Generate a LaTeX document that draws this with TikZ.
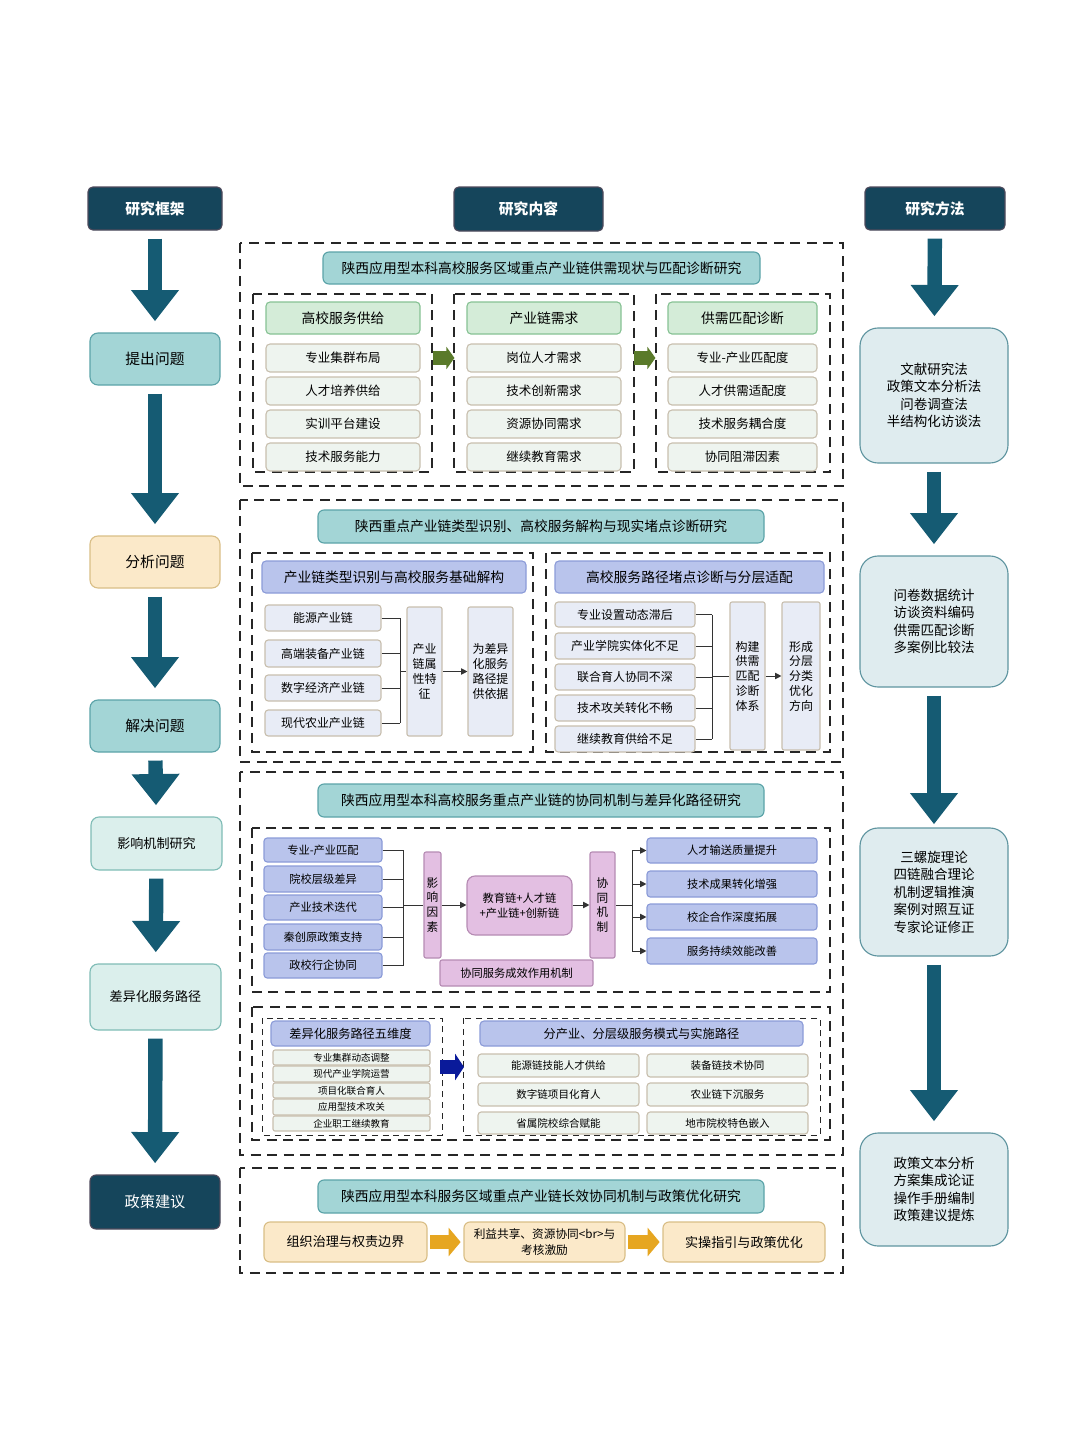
\documentclass[tikz,border=0pt]{standalone}
\usepackage{fontspec}
\setmainfont{Noto Sans CJK SC}
\usepackage{tikz}
\usetikzlibrary{positioning, calc, arrows.meta}

\definecolor{hdfill}{HTML}{15455B}
\definecolor{hdline}{HTML}{4E4A5C}
\definecolor{arrowc}{HTML}{155B73}
\definecolor{tealfill}{HTML}{A3D5D6}
\definecolor{tealline}{HTML}{5BA3A8}
\definecolor{tanfill}{HTML}{FBE9C9}
\definecolor{tanline}{HTML}{D9BE86}
\definecolor{mintfill}{HTML}{DBEFEC}
\definecolor{mintline}{HTML}{7FBCB6}
\definecolor{methfill}{HTML}{DFECEF}
\definecolor{methline}{HTML}{5F95A0}
\definecolor{grnfill}{HTML}{D4ECD8}
\definecolor{grnline}{HTML}{86C293}
\definecolor{itemfill}{HTML}{EEF4EF}
\definecolor{itemline}{HTML}{C8BFAE}
\definecolor{lavfill}{HTML}{B9C4EC}
\definecolor{lavline}{HTML}{8B9BD8}
\definecolor{lavlight}{HTML}{E8ECF6}
\definecolor{pinkfill}{HTML}{E3BFE2}
\definecolor{pinkline}{HTML}{B58BB3}
\definecolor{grnarrowc}{HTML}{5A7A2A}
\definecolor{bluarrowc}{HTML}{0A1A9A}
\definecolor{orgarrowc}{HTML}{E6A621}
\definecolor{connc}{HTML}{333333}

% box from corner (x1,y1) to corner (x2,y2), pixel units
\newcommand{\bx}[7]{\node[#6, minimum width={(#4-#2)*0.025cm}, minimum height={(#5-#3)*0.025cm}] (#1) at ({(#2+#4)/2},{(#3+#5)/2}) {#7};}

\tikzset{
  box/.style={draw, inner sep=0pt, align=center, line width=0.8pt},
  hdr/.style={box, fill=hdfill, draw=hdline, rounded corners=0.12cm, text=white,
    font=\fontsize{10.5}{12}\selectfont\bfseries},
  darkbx/.style={box, fill=hdfill, draw=hdline, rounded corners=0.15cm, text=white,
    font=\fontsize{10.8}{13}\selectfont},
  tealbx/.style={box, fill=tealfill, draw=tealline, rounded corners=0.2cm,
    font=\fontsize{10.5}{13}\selectfont},
  tanbx/.style={box, fill=tanfill, draw=tanline, rounded corners=0.2cm,
    font=\fontsize{10.5}{13}\selectfont},
  mintbx/.style={box, fill=mintfill, draw=mintline, rounded corners=0.2cm,
    font=\fontsize{9.3}{12}\selectfont},
  methbx/.style={box, fill=methfill, draw=methline, rounded corners=0.45cm,
    font=\fontsize{9.6}{12.4}\selectfont},
  titlebx/.style={box, fill=tealfill, draw=tealline, rounded corners=0.15cm,
    font=\fontsize{9.8}{12}\selectfont},
  grnhd/.style={box, fill=grnfill, draw=grnline, rounded corners=0.1cm,
    font=\fontsize{9.8}{12}\selectfont},
  item/.style={box, fill=itemfill, draw=itemline, rounded corners=0.1cm,
    font=\fontsize{8.9}{11}\selectfont},
  lavhd/.style={box, fill=lavfill, draw=lavline, rounded corners=0.1cm,
    font=\fontsize{9.8}{12}\selectfont},
  lavitem/.style={box, fill=lavlight, draw=itemline, rounded corners=0.08cm,
    font=\fontsize{8.5}{11}\selectfont},
  lavtall/.style={box, fill=lavlight, draw=itemline, rounded corners=0.05cm,
    font=\fontsize{8.5}{10.5}\selectfont},
  lavsm/.style={box, fill=lavfill, draw=lavline, rounded corners=0.08cm,
    font=\fontsize{8}{10}\selectfont},
  pinkbx/.style={box, fill=pinkfill, draw=pinkline, rounded corners=0.05cm,
    font=\fontsize{8.3}{10.5}\selectfont},
  dimitem/.style={box, fill=itemfill, draw=itemline, rounded corners=0.05cm,
    font=\fontsize{6.8}{8}\selectfont},
  gridit/.style={box, fill=itemfill, draw=itemline, rounded corners=0.08cm,
    font=\fontsize{7.5}{9}\selectfont},
  tanbot/.style={box, fill=tanfill, draw=tanline, rounded corners=0.15cm,
    font=\fontsize{9.3}{11.5}\selectfont},
  dashbox/.style={draw=black!85, line width=0.9pt, dash pattern=on 0.25cm off 0.16cm},
  bigarrow/.style={draw=arrowc, line width=0.36cm, -{Triangle[width=1.15cm,length=0.78cm]},
    shorten <=0.2cm, shorten >=0.28cm},
  grnarrow/.style={draw=grnarrowc, line width=0.33cm, -{Triangle[width=0.55cm,length=0.2cm]},
    shorten <=0.3cm, shorten >=0.3cm},
  bluarrow/.style={draw=bluarrowc, line width=0.35cm, -{Triangle[width=0.65cm,length=0.22cm]}},
  orgarrow/.style={draw=orgarrowc, line width=0.35cm, -{Triangle[width=0.7cm,length=0.3cm]},
    shorten <=0.07cm, shorten >=0.07cm},
  conn/.style={draw=connc, line width=0.7pt},
  connarr/.style={draw=connc, line width=0.7pt, -{Triangle[length=4.5pt,width=4.5pt]}},
}

\begin{document}
\begin{tikzpicture}[x=0.025cm, y=-0.025cm]
    \useasboundingbox (0,0) rectangle (1080,1440);

    % ---------- left column: research framework ----------
    \bx{kjhd}{88}{187}{222}{230}{hdr}{研究框架}
    \bx{tcwt}{90}{333}{220}{385}{tealbx}{提出问题}
    \bx{fxwt}{90}{536}{220}{588}{tanbx}{分析问题}
    \bx{jjwt}{90}{700}{220}{752}{tealbx}{解决问题}
    \bx{yxjz}{91}{817}{222}{870}{mintbx}{影响机制研究}
    \bx{cylj}{90}{964}{221}{1030}{mintbx}{差异化服务路径}
    \bx{zcjy}{90}{1175}{220}{1229}{darkbx}{政策建议}

    \draw[bigarrow] (kjhd) -- (tcwt);
    \draw[bigarrow] (tcwt) -- (fxwt);
    \draw[bigarrow] (fxwt) -- (jjwt);
    \draw[bigarrow] (jjwt) -- (yxjz);
    \draw[bigarrow] (yxjz) -- (cylj);
    \draw[bigarrow] (cylj) -- (zcjy);

    % ---------- right column: research methods ----------
    \bx{ffhd}{865}{187}{1005}{230}{hdr}{研究方法}
    \bx{ff1}{860}{328}{1008}{463}{methbx}{文献研究法\\政策文本分析法\\问卷调查法\\半结构化访谈法}
    \bx{ff2}{860}{556}{1008}{687}{methbx}{问卷数据统计\\访谈资料编码\\供需匹配诊断\\多案例比较法}
    \bx{ff3}{860}{828}{1008}{956}{methbx}{三螺旋理论\\四链融合理论\\机制逻辑推演\\案例对照互证\\专家论证修正}
    \bx{ff4}{860}{1133}{1008}{1246}{methbx}{政策文本分析\\方案集成论证\\操作手册编制\\政策建议提炼}

    \draw[bigarrow] (ffhd) -- (ff1);
    \draw[bigarrow] (ff1) -- (ff2);
    \draw[bigarrow, shorten >=0.08cm] (ff2) -- (ff3);
    \draw[bigarrow] (ff3) -- (ff4);

    % ---------- middle column: research content ----------
    \bx{nrhd}{454}{187}{603}{231}{hdr}{研究内容}

    % section 1: supply and demand diagnosis
    \draw[dashbox] (240,243) rectangle (843,486);
    \bx{t1}{323}{252}{760}{284}{titlebx}{陕西应用型本科高校服务区域重点产业链供需现状与匹配诊断研究}
    \draw[dashbox] (253,294) rectangle (432,472);
    \draw[dashbox] (454,294) rectangle (634,472);
    \draw[dashbox] (656,294) rectangle (830,472);

    \bx{gjhd}{266}{302}{420}{334}{grnhd}{高校服务供给}
    \bx{gj1}{266}{344}{420}{372}{item}{专业集群布局}
    \bx{gj2}{266}{377}{420}{405}{item}{人才培养供给}
    \bx{gj3}{266}{410}{420}{438}{item}{实训平台建设}
    \bx{gj4}{266}{443}{420}{471}{item}{技术服务能力}

    \bx{xqhd}{467}{302}{621}{334}{grnhd}{产业链需求}
    \bx{xq1}{467}{344}{621}{372}{item}{岗位人才需求}
    \bx{xq2}{467}{377}{621}{405}{item}{技术创新需求}
    \bx{xq3}{467}{410}{621}{438}{item}{资源协同需求}
    \bx{xq4}{467}{443}{621}{471}{item}{继续教育需求}

    \bx{ppdh}{668}{302}{817}{334}{grnhd}{供需匹配诊断}
    \bx{pp1}{668}{344}{817}{372}{item}{专业-产业匹配度}
    \bx{pp2}{668}{377}{817}{405}{item}{人才供需适配度}
    \bx{pp3}{668}{410}{817}{438}{item}{技术服务耦合度}
    \bx{pp4}{668}{443}{817}{471}{item}{协同阻滞因素}

    \draw[grnarrow] (gj1.east) -- (xq1.west);
    \draw[grnarrow] (xq1.east) -- (pp1.west);

    % section 2: chain types and blocking points
    \draw[dashbox] (240,500) rectangle (843,762);
    \bx{t2}{318}{510}{764}{543}{titlebx}{陕西重点产业链类型识别、高校服务解构与现实堵点诊断研究}
    \draw[dashbox] (252,553) rectangle (533,752);
    \draw[dashbox] (546,553) rectangle (830,752);

    \bx{lxhd}{262}{561}{526}{593}{lavhd}{产业链类型识别与高校服务基础解构}
    \bx{lx1}{265}{605}{381}{631}{lavitem}{能源产业链}
    \bx{lx2}{265}{640}{381}{667}{lavitem}{高端装备产业链}
    \bx{lx3}{265}{675}{381}{701}{lavitem}{数字经济产业链}
    \bx{lx4}{265}{710}{381}{736}{lavitem}{现代农业产业链}
    \bx{sxtz}{407}{607}{442}{736}{lavtall}{产业\\链属\\性特\\征}
    \bx{tgyj}{468}{607}{513}{736}{lavtall}{为差异\\化服务\\路径提\\供依据}

    \coordinate (lxbus) at (400,618);
    \draw[conn] (lx1.east) -- (lx1.east -| lxbus);
    \draw[conn] (lx2.east) -- (lx2.east -| lxbus);
    \draw[conn] (lx3.east) -- (lx3.east -| lxbus);
    \draw[conn] (lx4.east) -- (lx4.east -| lxbus);
    \draw[conn] (lx1.east -| lxbus) -- (lx4.east -| lxbus);
    \draw[conn] (sxtz.west -| lxbus) -- (sxtz.west);
    \draw[connarr] (sxtz) -- (tgyj);

    \bx{dshd}{555}{561}{824}{593}{lavhd}{高校服务路径堵点诊断与分层适配}
    \bx{ds1}{555}{602}{695}{627}{lavitem}{专业设置动态滞后}
    \bx{ds2}{555}{633}{695}{659}{lavitem}{产业学院实体化不足}
    \bx{ds3}{555}{664}{695}{690}{lavitem}{联合育人协同不深}
    \bx{ds4}{555}{695}{695}{721}{lavitem}{技术攻关转化不畅}
    \bx{ds5}{555}{726}{695}{752}{lavitem}{继续教育供给不足}
    \bx{zdtx}{730}{602}{765}{750}{lavtall}{构建\\供需\\匹配\\诊断\\体系}
    \bx{yhfx}{782}{602}{820}{750}{lavtall}{形成\\分层\\分类\\优化\\方向}

    \coordinate (dsbus) at (712,615);
    \draw[conn] (ds1.east) -- (ds1.east -| dsbus);
    \draw[conn] (ds2.east) -- (ds2.east -| dsbus);
    \draw[conn] (ds3.east) -- (ds3.east -| dsbus);
    \draw[conn] (ds4.east) -- (ds4.east -| dsbus);
    \draw[conn] (ds5.east) -- (ds5.east -| dsbus);
    \draw[conn] (ds1.east -| dsbus) -- (ds5.east -| dsbus);
    \draw[conn] (zdtx.west -| dsbus) -- (zdtx.west);
    \draw[connarr] (zdtx) -- (yhfx);

    % section 3: synergy mechanism and paths
    \draw[dashbox] (240,772) rectangle (843,1155);
    \bx{t3}{318}{784}{764}{817}{titlebx}{陕西应用型本科高校服务重点产业链的协同机制与差异化路径研究}
    \draw[dashbox] (252,828) rectangle (830,992);

    \bx{ys1}{264}{838}{382}{862}{lavsm}{专业-产业匹配}
    \bx{ys2}{264}{866}{382}{892}{lavsm}{院校层级差异}
    \bx{ys3}{264}{895}{382}{920}{lavsm}{产业技术迭代}
    \bx{ys4}{264}{924}{382}{950}{lavsm}{秦创原政策支持}
    \bx{ys5}{264}{953}{382}{978}{lavsm}{政校行企协同}
    \bx{yxys}{424}{852}{441}{958}{pinkbx}{影\\响\\因\\素}
    \bx{slrh}{467}{876}{572}{935}{pinkbx, rounded corners=0.2cm, font=\fontsize{8}{11}\selectfont}{教育链+人才链\\+产业链+创新链}
    \bx{xtjz}{590}{852}{615}{958}{pinkbx}{协\\同\\机\\制}
    \bx{xtcx}{440}{960}{593}{986}{pinkbx, font=\fontsize{8}{10}\selectfont}{协同服务成效作用机制}
    \bx{cx1}{647}{838}{817}{863}{lavsm}{人才输送质量提升}
    \bx{cx2}{647}{871}{817}{897}{lavsm}{技术成果转化增强}
    \bx{cx3}{647}{904}{817}{930}{lavsm}{校企合作深度拓展}
    \bx{cx4}{647}{938}{817}{964}{lavsm}{服务持续效能改善}

    \coordinate (ysbus) at (403,850);
    \draw[conn] (ys1.east) -- (ys1.east -| ysbus);
    \draw[conn] (ys2.east) -- (ys2.east -| ysbus);
    \draw[conn] (ys3.east) -- (ys3.east -| ysbus);
    \draw[conn] (ys4.east) -- (ys4.east -| ysbus);
    \draw[conn] (ys5.east) -- (ys5.east -| ysbus);
    \draw[conn] (ys1.east -| ysbus) -- (ys5.east -| ysbus);
    \draw[conn] (yxys.west -| ysbus) -- (yxys.west);
    \draw[connarr] (yxys.east) -- (slrh.west |- yxys.east);
    \draw[connarr] (slrh.east |- xtjz.west) -- (xtjz.west);

    \coordinate (cxbus) at (632,850);
    \draw[conn] (xtjz.east) -- (xtjz.east -| cxbus);
    \draw[conn] (cx1.west -| cxbus) -- (cx4.west -| cxbus);
    \draw[connarr] (cx1.west -| cxbus) -- (cx1.west);
    \draw[connarr] (cx2.west -| cxbus) -- (cx2.west);
    \draw[connarr] (cx3.west -| cxbus) -- (cx3.west);
    \draw[connarr] (cx4.west -| cxbus) -- (cx4.west);

    \draw[dashbox] (252,1007) rectangle (830,1140);
    \draw[dashbox, line width=0.7pt, dash pattern=on 0.15cm off 0.12cm] (262,1018) rectangle (442,1135);
    \draw[dashbox, line width=0.7pt, dash pattern=on 0.15cm off 0.12cm] (463,1018) rectangle (820,1135);

    \bx{wwhd}{271}{1021}{430}{1046}{lavhd, font=\fontsize{8.7}{10}\selectfont}{差异化服务路径五维度}
    \bx{ww1}{273}{1050}{430}{1065}{dimitem}{专业集群动态调整}
    \bx{ww2}{273}{1066}{430}{1082}{dimitem}{现代产业学院运营}
    \bx{ww3}{273}{1083}{430}{1098}{dimitem}{项目化联合育人}
    \bx{ww4}{273}{1099}{430}{1115}{dimitem}{应用型技术攻关}
    \bx{ww5}{273}{1116}{430}{1131}{dimitem}{企业职工继续教育}

    \bx{mshd}{480}{1021}{803}{1046}{lavhd, font=\fontsize{8.7}{10}\selectfont}{分产业、分层级服务模式与实施路径}
    \bx{ms1}{478}{1054}{639}{1077}{gridit}{能源链技能人才供给}
    \bx{ms2}{647}{1054}{808}{1077}{gridit}{装备链技术协同}
    \bx{ms3}{478}{1083}{639}{1106}{gridit}{数字链项目化育人}
    \bx{ms4}{647}{1083}{808}{1106}{gridit}{农业链下沉服务}
    \bx{ms5}{478}{1112}{639}{1134}{gridit}{省属院校综合赋能}
    \bx{ms6}{647}{1112}{808}{1134}{gridit}{地市院校特色嵌入}

    \coordinate (wwout) at (440,1067);
    \coordinate (msin) at (464,1067);
    \draw[bluarrow] (wwout) -- (msin);

    % section 4: long-term mechanism and policy
    \draw[dashbox] (240,1168) rectangle (843,1273);
    \bx{t4}{318}{1180}{764}{1213}{titlebx}{陕西应用型本科服务区域重点产业链长效协同机制与政策优化研究}
    \bx{zl1}{264}{1222}{427}{1262}{tanbot}{组织治理与权责边界}
    \bx{zl2}{464}{1222}{625}{1262}{tanbot, font=\fontsize{8.3}{11}\selectfont}{利益共享、资源协同<br>与\\考核激励}
    \bx{zl3}{663}{1222}{825}{1262}{tanbot}{实操指引与政策优化}
    \draw[orgarrow] (zl1) -- (zl2);
    \draw[orgarrow] (zl2) -- (zl3);

\end{tikzpicture}
\end{document}
